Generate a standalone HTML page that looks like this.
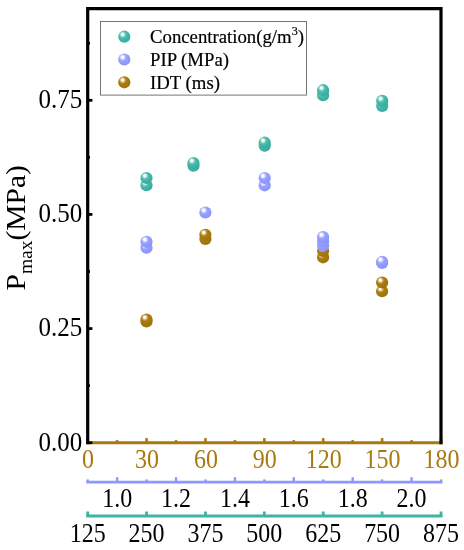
<!DOCTYPE html>
<html lang="en"><head><meta charset="utf-8"><title>Pmax chart</title>
<style>html,body{margin:0;padding:0;background:#fff}body{width:464px;height:550px;overflow:hidden}</style>
</head><body>
<svg width="464" height="550" viewBox="0 0 464 550" style="display:block">
<defs>
<radialGradient id="gt" cx="0.40" cy="0.36" r="0.64" fx="0.35" fy="0.30"><stop offset="0" stop-color="#ffffff"/><stop offset="0.13" stop-color="#ffffff"/><stop offset="0.30" stop-color="#8fd6cb"/><stop offset="0.46" stop-color="#48bbab"/><stop offset="1" stop-color="#36ab9c"/></radialGradient>
<radialGradient id="gb" cx="0.40" cy="0.36" r="0.64" fx="0.35" fy="0.30"><stop offset="0" stop-color="#ffffff"/><stop offset="0.13" stop-color="#ffffff"/><stop offset="0.30" stop-color="#c6cbff"/><stop offset="0.46" stop-color="#98a0ff"/><stop offset="1" stop-color="#8a93fd"/></radialGradient>
<radialGradient id="gr" cx="0.40" cy="0.36" r="0.64" fx="0.35" fy="0.30"><stop offset="0" stop-color="#ffffff"/><stop offset="0.13" stop-color="#ffffff"/><stop offset="0.30" stop-color="#cdb165"/><stop offset="0.46" stop-color="#aa7c12"/><stop offset="1" stop-color="#9f7309"/></radialGradient>
</defs>
<rect width="464" height="550" fill="#fff"/>
<circle cx="146.5" cy="185.2" r="6.1" fill="url(#gt)"/>
<circle cx="146.5" cy="178" r="6.1" fill="url(#gt)"/>
<circle cx="193.5" cy="165.7" r="6.1" fill="url(#gt)"/>
<circle cx="193.5" cy="163" r="6.1" fill="url(#gt)"/>
<circle cx="264.7" cy="145.6" r="6.1" fill="url(#gt)"/>
<circle cx="264.7" cy="142.7" r="6.1" fill="url(#gt)"/>
<circle cx="323.1" cy="95.2" r="6.1" fill="url(#gt)"/>
<circle cx="323.1" cy="90.2" r="6.1" fill="url(#gt)"/>
<circle cx="382.2" cy="106" r="6.1" fill="url(#gt)"/>
<circle cx="382.2" cy="100.9" r="6.1" fill="url(#gt)"/>
<circle cx="146.5" cy="321.5" r="6.1" fill="url(#gr)"/>
<circle cx="146.5" cy="319.6" r="6.1" fill="url(#gr)"/>
<circle cx="205.4" cy="239" r="6.1" fill="url(#gr)"/>
<circle cx="205.4" cy="234.8" r="6.1" fill="url(#gr)"/>
<circle cx="323.1" cy="257.3" r="6.1" fill="url(#gr)"/>
<circle cx="323.1" cy="251" r="6.1" fill="url(#gr)"/>
<circle cx="382.1" cy="291.2" r="6.1" fill="url(#gr)"/>
<circle cx="382.1" cy="282.5" r="6.1" fill="url(#gr)"/>
<circle cx="146.5" cy="247.7" r="6.1" fill="url(#gb)"/>
<circle cx="146.5" cy="241.8" r="6.1" fill="url(#gb)"/>
<circle cx="205.4" cy="212.5" r="6.1" fill="url(#gb)"/>
<circle cx="264.7" cy="185.3" r="6.1" fill="url(#gb)"/>
<circle cx="264.7" cy="178" r="6.1" fill="url(#gb)"/>
<circle cx="323.1" cy="245.6" r="6.1" fill="url(#gb)"/>
<circle cx="323.1" cy="241.2" r="6.1" fill="url(#gb)"/>
<circle cx="323.1" cy="237.1" r="6.1" fill="url(#gb)"/>
<circle cx="382.1" cy="263" r="6.1" fill="url(#gb)"/>
<circle cx="382.1" cy="261.8" r="6.1" fill="url(#gb)"/>
<path d="M86.2 442.7 H442.5" stroke="#a8790f" stroke-width="3"/>
<path d="M87.70 442.7 v-4.6" stroke="#a8790f" stroke-width="2.6"/>
<path d="M117.14 442.7 v-2.6" stroke="#a8790f" stroke-width="2.6"/>
<path d="M146.58 442.7 v-4.6" stroke="#a8790f" stroke-width="2.6"/>
<path d="M176.03 442.7 v-2.6" stroke="#a8790f" stroke-width="2.6"/>
<path d="M205.47 442.7 v-4.6" stroke="#a8790f" stroke-width="2.6"/>
<path d="M234.91 442.7 v-2.6" stroke="#a8790f" stroke-width="2.6"/>
<path d="M264.35 442.7 v-4.6" stroke="#a8790f" stroke-width="2.6"/>
<path d="M293.79 442.7 v-2.6" stroke="#a8790f" stroke-width="2.6"/>
<path d="M323.23 442.7 v-4.6" stroke="#a8790f" stroke-width="2.6"/>
<path d="M352.68 442.7 v-2.6" stroke="#a8790f" stroke-width="2.6"/>
<path d="M382.12 442.7 v-4.6" stroke="#a8790f" stroke-width="2.6"/>
<path d="M411.56 442.7 v-2.6" stroke="#a8790f" stroke-width="2.6"/>
<path d="M441.00 442.7 v-4.6" stroke="#a8790f" stroke-width="2.6"/>
<path d="M87.7 444.2 V8.7 H441.0 V444.2" fill="none" stroke="#000" stroke-width="3.2" stroke-linejoin="miter"/>
<path d="M87.7 442.70 h4.7" stroke="#000" stroke-width="2.8"/>
<path d="M87.7 385.63 h2.3" stroke="#000" stroke-width="2.8"/>
<path d="M87.7 328.57 h4.7" stroke="#000" stroke-width="2.8"/>
<path d="M87.7 271.50 h2.3" stroke="#000" stroke-width="2.8"/>
<path d="M87.7 214.43 h4.7" stroke="#000" stroke-width="2.8"/>
<path d="M87.7 157.37 h2.3" stroke="#000" stroke-width="2.8"/>
<path d="M87.7 100.30 h4.7" stroke="#000" stroke-width="2.8"/>
<path d="M87.7 43.23 h2.3" stroke="#000" stroke-width="2.8"/>
<path d="M86.2 482.2 H442.5" stroke="#8e97ff" stroke-width="2.8"/>
<path d="M87.70 482.2 v-2.8" stroke="#8e97ff" stroke-width="2.4"/>
<path d="M117.14 482.2 v-5" stroke="#8e97ff" stroke-width="2.4"/>
<path d="M146.58 482.2 v-2.8" stroke="#8e97ff" stroke-width="2.4"/>
<path d="M176.03 482.2 v-5" stroke="#8e97ff" stroke-width="2.4"/>
<path d="M205.47 482.2 v-2.8" stroke="#8e97ff" stroke-width="2.4"/>
<path d="M234.91 482.2 v-5" stroke="#8e97ff" stroke-width="2.4"/>
<path d="M264.35 482.2 v-2.8" stroke="#8e97ff" stroke-width="2.4"/>
<path d="M293.79 482.2 v-5" stroke="#8e97ff" stroke-width="2.4"/>
<path d="M323.23 482.2 v-2.8" stroke="#8e97ff" stroke-width="2.4"/>
<path d="M352.68 482.2 v-5" stroke="#8e97ff" stroke-width="2.4"/>
<path d="M382.12 482.2 v-2.8" stroke="#8e97ff" stroke-width="2.4"/>
<path d="M411.56 482.2 v-5" stroke="#8e97ff" stroke-width="2.4"/>
<path d="M441.00 482.2 v-2.8" stroke="#8e97ff" stroke-width="2.4"/>
<path d="M86.2 516.1 H442.5" stroke="#3db5a4" stroke-width="3"/>
<path d="M87.70 516.1 v-4.6" stroke="#3db5a4" stroke-width="2.8"/>
<path d="M146.58 516.1 v-4.6" stroke="#3db5a4" stroke-width="2.8"/>
<path d="M205.47 516.1 v-4.6" stroke="#3db5a4" stroke-width="2.8"/>
<path d="M264.35 516.1 v-4.6" stroke="#3db5a4" stroke-width="2.8"/>
<path d="M323.23 516.1 v-4.6" stroke="#3db5a4" stroke-width="2.8"/>
<path d="M382.12 516.1 v-4.6" stroke="#3db5a4" stroke-width="2.8"/>
<path d="M441.00 516.1 v-4.6" stroke="#3db5a4" stroke-width="2.8"/>
<g font-family="'Liberation Serif', 'Times New Roman', serif" font-size="24" fill="#000">
<text transform="translate(82.30 450.50) scale(1 1.07)" text-anchor="end" font-size="25">0.00</text>
<text transform="translate(82.30 336.37) scale(1 1.07)" text-anchor="end" font-size="25">0.25</text>
<text transform="translate(82.30 222.23) scale(1 1.07)" text-anchor="end" font-size="25">0.50</text>
<text transform="translate(82.30 108.10) scale(1 1.07)" text-anchor="end" font-size="25">0.75</text>
<text transform="translate(88.10 468.30) scale(1 1.15)" text-anchor="middle" fill="#a8790f">0</text>
<text transform="translate(146.98 468.30) scale(1 1.15)" text-anchor="middle" fill="#a8790f">30</text>
<text transform="translate(205.87 468.30) scale(1 1.15)" text-anchor="middle" fill="#a8790f">60</text>
<text transform="translate(264.75 468.30) scale(1 1.15)" text-anchor="middle" fill="#a8790f">90</text>
<text transform="translate(323.63 468.30) scale(1 1.15)" text-anchor="middle" fill="#a8790f">120</text>
<text transform="translate(382.52 468.30) scale(1 1.15)" text-anchor="middle" fill="#a8790f">150</text>
<text transform="translate(441.40 468.30) scale(1 1.15)" text-anchor="middle" fill="#a8790f">180</text>
<text transform="translate(117.14 507.00) scale(1 1.15)" text-anchor="middle">1.0</text>
<text transform="translate(176.03 507.00) scale(1 1.15)" text-anchor="middle">1.2</text>
<text transform="translate(234.91 507.00) scale(1 1.15)" text-anchor="middle">1.4</text>
<text transform="translate(293.79 507.00) scale(1 1.15)" text-anchor="middle">1.6</text>
<text transform="translate(352.68 507.00) scale(1 1.15)" text-anchor="middle">1.8</text>
<text transform="translate(411.56 507.00) scale(1 1.15)" text-anchor="middle">2.0</text>
<text transform="translate(87.70 541.80) scale(1 1.15)" text-anchor="middle">125</text>
<text transform="translate(146.58 541.80) scale(1 1.15)" text-anchor="middle">250</text>
<text transform="translate(205.47 541.80) scale(1 1.15)" text-anchor="middle">375</text>
<text transform="translate(264.35 541.80) scale(1 1.15)" text-anchor="middle">500</text>
<text transform="translate(323.23 541.80) scale(1 1.15)" text-anchor="middle">625</text>
<text transform="translate(382.12 541.80) scale(1 1.15)" text-anchor="middle">750</text>
<text transform="translate(441.00 541.80) scale(1 1.15)" text-anchor="middle">875</text>
</g>
<text transform="translate(24.5 290.5) rotate(-90) scale(1.055 1)" font-family="'Liberation Serif', 'Times New Roman', serif" font-size="28" fill="#000">P<tspan font-size="18.5" dy="7.5">max</tspan><tspan dy="-7.5">(MPa)</tspan></text>
<rect x="100.5" y="21.5" width="206" height="73.6" fill="#fff" stroke="#666" stroke-width="0.9"/>
<circle cx="124.3" cy="36.7" r="6.1" fill="url(#gt)"/>
<circle cx="124.3" cy="59.5" r="6.1" fill="url(#gb)"/>
<circle cx="124.3" cy="82.3" r="6.1" fill="url(#gr)"/>
<g font-family="'Liberation Serif', 'Times New Roman', serif" font-size="18.75" fill="#000" stroke="#000" stroke-width="0.2">
<text x="150" y="43">Concentration(g/m<tspan font-size="12.2" dy="-8.2">3</tspan><tspan dy="8.2">)</tspan></text>
<text x="150" y="66.2">PIP (MPa)</text>
<text x="150" y="89">IDT (ms)</text>
</g>
</svg>
</body></html>
